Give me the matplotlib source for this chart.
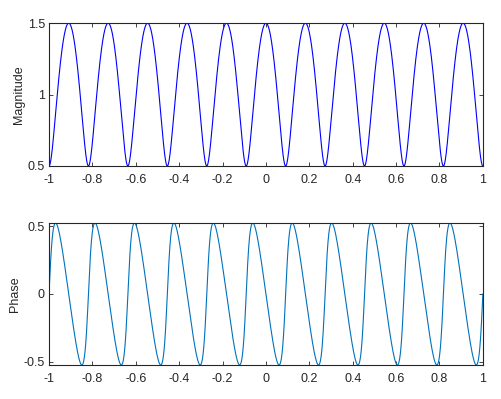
import numpy as np
import matplotlib
matplotlib.use("Agg")
import matplotlib.pyplot as plt

# FIR comb filter: H(z) = 1 + 0.5 z^-11
b_coeffs = [1.0] + [0.0] * 10 + [0.5]
a_coeffs = [1.0]
n_points = 2001
x_ticks = [-1, -0.8, -0.6, -0.4, -0.2, 0, 0.2, 0.4, 0.6, 0.8, 1]
x_ticklabels = ["-1", "-0.8", "-0.6", "-0.4", "-0.2", "0", "0.2", "0.4", "0.6", "0.8", "1"]
mag_ticks = [0.5, 1, 1.5]
mag_ticklabels = ["0.5", "1", "1.5"]
phase_ticks = [-0.5, 0, 0.5]
phase_ticklabels = ["-0.5", "0", "0.5"]

# normalized frequency (x pi rad/sample)
w = np.linspace(-1, 1, n_points)
z = np.exp(1j * np.pi * w)
num = sum(c * z ** (-k) for k, c in enumerate(b_coeffs))
den = sum(c * z ** (-k) for k, c in enumerate(a_coeffs))
H = num / den
mag = np.abs(H)
phase = np.angle(H)

plt.rcParams["font.family"] = ["Liberation Sans", "DejaVu Sans"]
plt.rcParams["font.size"] = 9
txt = (0.15, 0.15, 0.15)

fig = plt.figure(figsize=(5.01, 3.99), dpi=100)
ax1 = fig.add_axes([0.0978, 0.584, 0.866, 0.358])
ax2 = fig.add_axes([0.0978, 0.0852, 0.866, 0.356])

ax1.plot(w, mag, color=(0, 0, 1), lw=0.8)
ax2.plot(w, phase, color=(0, 0.447, 0.741), lw=0.8)

ax1.set_ylim(mag.min(), mag.max())
ax2.set_ylim(phase.min(), phase.max())
ax1.set_yticks(mag_ticks)
ax1.set_yticklabels(mag_ticklabels)
ax2.set_yticks(phase_ticks)
ax2.set_yticklabels(phase_ticklabels)
ax1.set_ylabel("Magnitude", color=txt, fontsize=9, labelpad=2)
ax2.set_ylabel("Phase", color=txt, fontsize=9, labelpad=2)

for ax in (ax1, ax2):
    ax.set_xlim(-1, 1)
    ax.set_xticks(x_ticks)
    ax.set_xticklabels(x_ticklabels)
    ax.tick_params(direction="in", length=3, width=0.6, top=True, right=True,
                   colors=txt, labelcolor=txt, labelsize=9, pad=3)
    ax.tick_params(axis="x", pad=6)
    for s in ax.spines.values():
        s.set_color(txt)
        s.set_linewidth(0.8)

fig.savefig("out.png", dpi=100)
